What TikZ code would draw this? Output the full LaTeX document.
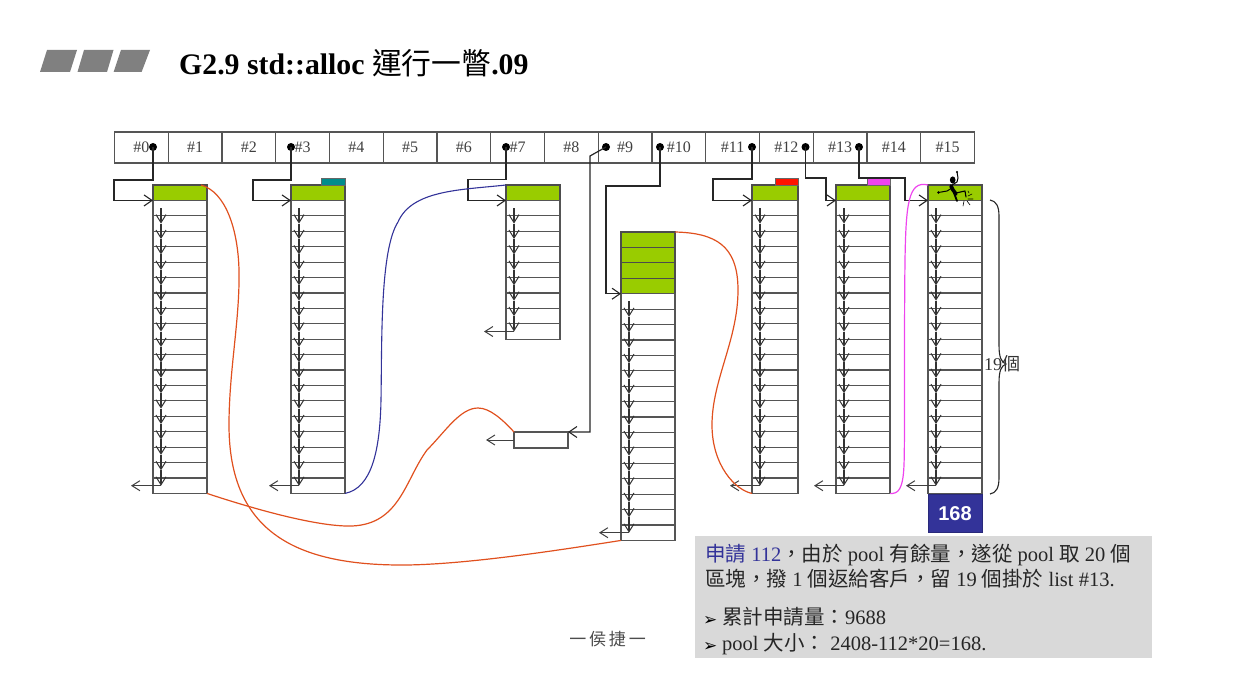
\documentclass[tikz,border=0pt]{standalone}
\usepackage{fontspec}
\setmainfont{Liberation Serif}
\setsansfont{Liberation Sans}
\newfontfamily\cjk{Noto Sans CJK TC}
\newfontfamily\dejavu{DejaVu Sans}
\usetikzlibrary{arrows.meta}
\definecolor{lgreen}{HTML}{99CC00}
\definecolor{lineg}{HTML}{555555}
\definecolor{curvered}{HTML}{E0501E}
\definecolor{navy}{HTML}{333399}
\definecolor{pinkm}{HTML}{EE44EE}
\tikzset{
  cellbox/.style={draw=lineg,line width=1.2pt,fill=white,inner sep=0pt,outer sep=0pt,anchor=north west,minimum height=15.45pt},
  greenbox/.style={cellbox,fill=lgreen,draw=black!70},
  binbox/.style={draw=lineg,line width=1.2pt,inner sep=0pt,outer sep=0pt,minimum width=53.8pt,minimum height=31pt,text=black!75,font=\fontsize{16}{16}\selectfont},
  bindot/.style={circle,fill=black,inner sep=0pt,minimum size=8pt},
  nextarrow/.style={draw=black!80,line width=1.1pt,-{Straight Barb[length=8pt,width=10pt,line width=1pt]}},
  conn/.style={draw=black!85,line width=1.2pt,-{Straight Barb[length=8pt,width=11pt,line width=1.1pt]}},
  backarrow/.style={draw=black!75,line width=1pt,-{Straight Barb[length=8pt,width=10pt,line width=1pt]}},
  orangecurve/.style={draw=curvered,line width=1.2pt},
  tabbox/.style={draw=black!60,line width=0.8pt,inner sep=0pt,outer sep=0pt,anchor=south east,minimum height=7pt},
  note/.style={anchor=base west,inner sep=0pt,font=\fontsize{20.5}{20.5}\selectfont,text=black!85},
  pgram/.style={fill=black!50,draw=none}
}
% name, x, ytop, width, cells, green cells
\newcommand{\listcol}[6]{%
  \foreach \i in {0,...,\numexpr#5-1\relax}{%
    \pgfmathsetmacro{\yy}{#3+\i*15.42}%
    \ifnum\i<#6\relax
      \node[greenbox,minimum width=#4pt] (#1-\i) at (#2,\yy) {};
    \else
      \node[cellbox,minimum width=#4pt] (#1-\i) at (#2,\yy) {};
    \fi
  }%
  \pgfmathtruncatemacro{\last}{#5-1}%
  \pgfmathtruncatemacro{\penult}{#5-2}%
  \foreach \i in {#6,...,\penult}{%
    \pgfmathtruncatemacro{\nx}{\i+1}%
    \draw[nextarrow] ([xshift=8pt]#1-\i.west) -- ([xshift=8pt]#1-\nx.west);
  }%
  \draw[backarrow] ([xshift=8pt]#1-\last.west) -- ([xshift=-22pt]#1-\last.west);
}
\begin{document}
\begin{tikzpicture}[x=1pt,y=-1pt]
\useasboundingbox (0,0) rectangle (1237,698);
% header
\fill[pgram] (47,50) -- (77,50) -- (70,72) -- (40,72) -- cycle;
\fill[pgram] (84,50) -- (113.5,50) -- (107,72) -- (77.5,72) -- cycle;
\fill[pgram] (121,50) -- (150,50) -- (141.6,72) -- (113.6,72) -- cycle;
\node[anchor=base west,inner sep=0pt,font=\fontsize{29.8}{29.8}\selectfont] (title) at (179,75) {\textbf{G2.9 std::alloc} {\cjk 運行一瞥}\textbf{.09}};
% bins
\foreach \n in {0,...,15}{
  \pgfmathsetmacro{\bx}{141.4+\n*53.75}
  \node[binbox] (b\n) at (\bx,147.5) {\#\n};
}
% dots
\node[bindot] (d0) at (153,147) {};
\node[bindot] (d3) at (291,147) {};
\node[bindot] (d7) at (506,147) {};
\node[bindot] (d9) at (606,147) {};
\node[bindot] (d10) at (660,147) {};
\node[bindot] (d11) at (752,147) {};
\node[bindot] (d12) at (805.5,147) {};
\node[bindot] (d13) at (859,147) {};
% lists
\listcol{a}{153}{185}{54}{20}{1}
\listcol{c}{291}{185}{54}{20}{1}
\listcol{e}{506}{185}{54}{10}{1}
\listcol{g}{621}{232}{54}{20}{4}
\listcol{h}{752}{185}{46}{20}{1}
\listcol{k}{836}{185}{54}{20}{1}
\listcol{m}{928}{185}{54}{20}{1}
\node[cellbox,minimum width=54pt,minimum height=16pt] (rem) at (514,432) {};
\draw[backarrow] (rem.west) -- ([xshift=-28pt]rem.west);
% tabs
\node[tabbox,fill=teal!90!cyan,minimum width=24pt] (t3) at (c-0.north east) {};
\node[tabbox,fill=red!85!orange,minimum width=23pt] (t11) at (h-0.north east) {};
\node[tabbox,fill=pinkm,minimum width=23pt] (t13) at (k-0.north east) {};
% pool
\node[anchor=north west,inner sep=0pt,outer sep=0pt,fill=navy,draw=navy!80!black,minimum width=54pt,minimum height=38pt,text=white,font=\sffamily\bfseries\fontsize{20}{20}\selectfont] (pool) at (928,494.4) {168};
% bin connectors
\draw[conn] (d0.center) -- (153,180) -- (114,180) |- (a-0.south west);
\draw[conn] (d3.center) -- (291,180) -- (253,180) |- (c-0.south west);
\draw[conn] (d7.center) -- (506,179.5) -- (468,179.5) |- (e-0.south west);
\draw[conn] (d9.center) -- (590,156) |- (rem.north east);
\draw[conn] (d10.center) -- (660,186) -- (606,186) |- (g-3.south west);
\draw[conn] (d11.center) -- (752,179) -- (713,179) |- (h-0.south west);
\draw[conn] (d12.center) -- (805.5,178) -- (826,178) |- (k-0.south west);
\draw[conn] (d13.center) -- (859,178) -- (905,178) |- (m-0.south west);
% curves
\draw[orangecurve] ([xshift=-6pt]a-0.north east) .. controls (226,192) and (238,230) .. (239,270)
  .. controls (240,320) and (229,370) .. (229,425)
  .. controls (229,535) and (300,566) .. (407,565)
  .. controls (470,564) and (560,550) .. (g-19.south west);
\draw[orangecurve] (a-19.south east) .. controls (260,511) and (320,527) .. (352,526)
  .. controls (400,524) and (405,480) .. (427,450)
  .. controls (445,432) and (460,408) .. (478,408)
  .. controls (490,408) and (503,420) .. (rem.north west);
\draw[draw=navy,line width=1.1pt] (c-19.south east) .. controls (372,488) and (380,450) .. (381,400)
  .. controls (382,340) and (380,250) .. (398,222)
  .. controls (412,190) and (460,190) .. (e-0.north west);
\draw[orangecurve] (g-0.north east) .. controls (715,233) and (738,245) .. (738,290)
  .. controls (738,340) and (712,380) .. (712,425)
  .. controls (712,465) and (735,490) .. (h-19.south west);
\draw[draw=pinkm,line width=1.2pt] (m-0.north west) .. controls (908,180) and (906,205) .. (905,260)
  .. controls (904,340) and (905,440) .. (904,465)
  .. controls (903,490) and (898,494) .. (k-19.south east);
% brace
\draw[draw=black!85,line width=1.1pt] (990,200) .. controls (996,201) and (999,206) .. (999,216)
  -- (999,345) .. controls (999,357) and (1001,362) .. (1006,364)
  .. controls (1001,366) and (999,371) .. (999,383)
  -- (999,478) .. controls (999,488) and (996,493) .. (990,494);
\node[anchor=center,inner sep=0pt,font=\fontsize{18}{18}\selectfont,text=black!80] (n19) at (1002,364) {19{\cjk 個}};
% stick figure
\begin{scope}[line cap=round,line join=round,black]
\fill (952.7,180) ellipse (2.8pt and 3.6pt);
\draw[line width=1pt] (952,185) -- (957,182) -- (958,178) -- (957,172);
\fill (957,172) circle (1.2pt);
\draw[line width=3.6pt] (951,186) -- (953,190) -- (956,194);
\draw[line width=1pt] (952,188) -- (947,191) -- (938.5,192.5);
\fill (938.5,192.5) circle (1.3pt);
\draw[line width=1.1pt] (956,193) -- (965,191) -- (966,197);
\draw[line width=1.8pt] (954,193) -- (957,201);
\draw[line width=0.6pt] (968,196) -- (972,194) (968,199) -- (973,199) (967,201) -- (970,205) (964,201) -- (963,206) (968,191) -- (969,193);
\end{scope}
% note box
\fill[black!15] (695,535.5) rectangle (1152,658);
\node[note] (l1) at (705,561) {{\color{navy}{\cjk 申請} 112}{\cjk ，由於} pool {\cjk 有餘量，遂從} pool {\cjk 取} 20 {\cjk 個}};
\node[note] (l2) at (705,586.5) {{\cjk 區塊，撥} 1 {\cjk 個返給客戶，留} 19 {\cjk 個掛於} list \#13.};
\node[note,font=\fontsize{17}{17}\selectfont,text=black] (bu1) at (703,625) {{\dejavu ➢}};
\node[note] (l3) at (722,624.5) {{\cjk 累計申請量：}9688};
\node[note,font=\fontsize{17}{17}\selectfont,text=black] (bu2) at (703,651) {{\dejavu ➢}};
\node[note] (l4) at (722,650) {pool {\cjk 大小：} 2408-112*20=168.};
% signature
\node[anchor=center,inner sep=0pt,font=\fontsize{17}{17}\selectfont,text=black!70] (sig) at (607.5,639) {{\cjk 一\,侯\,捷\,一}};
\end{tikzpicture}
\end{document}
